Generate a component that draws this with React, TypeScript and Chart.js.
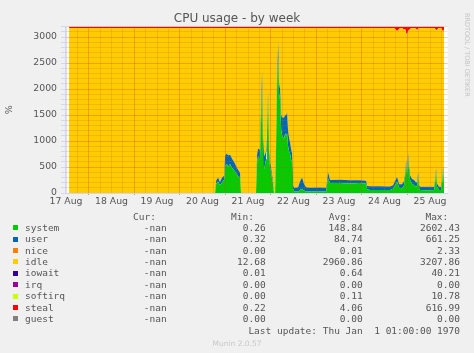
import React, { useEffect, useRef } from 'react';
import { Chart, registerables } from 'chart.js';

Chart.register(...registerables);

// ---- data (x = hours since 17 Aug 00:00) ----
const hours = [
  13.6, 50, 90.6, 91.2, 92.2, 93.2, 94.3, 95.4, 95.9, 96.9,
  97.5, 98.5, 99.6, 100.6, 101.7, 102.7, 103.8, 104.3, 112.2, 112.8,
  113.3, 114.3, 114.9, 115.4, 115.9, 116.4, 117.0, 117.5, 118.0, 118.6,
  119.1, 119.6, 120.2, 120.7, 121.2, 121.7, 122.3, 122.8, 123.3, 123.9,
  124.4, 124.9, 125.5, 126.0, 127.0, 127.6, 128.1, 128.6, 129.1, 129.7,
  130.2, 130.7, 131.2, 131.7, 132.3, 134.4, 135.4, 136.5, 137.5, 138.6,
  140.7, 144.9, 149.2, 149.7, 150.2, 151.3, 156.5, 161.8, 167.1, 170.3,
  170.8, 172.4, 177.6, 182.9, 184.5, 185.5, 186.6, 187.7, 189.2, 190.3,
  190.8, 191.4, 191.9, 192.4, 193.0, 193.5, 194.5, 195.6, 196.7, 197.2,
  197.7, 198.3, 198.8, 201.4, 204.0, 206.2, 206.7, 207.2, 207.7, 208.8,
  209.8, 210.4, 210.9, 211.4,
];

const systemPct = [
  0, 0, 0, 180, 220, 150, 200, 260, 520, 560,
  500, 560, 480, 440, 380, 330, 300, 0, 0, 600,
  700, 650, 1400, 2000, 900, 450, 550, 650, 1100, 1900,
  700, 500, 400, 280, 180, 0, 0, 900, 2000, 2600,
  1900, 1800, 1200, 1100, 1050, 1150, 1100, 1150, 900, 800,
  750, 650, 600, 80, 30, 30, 60, 80, 50, 30,
  30, 30, 30, 180, 280, 190, 190, 185, 190, 180,
  70, 60, 60, 60, 80, 150, 220, 100, 90, 150,
  300, 560, 350, 680, 400, 250, 180, 150, 120, 150,
  330, 80, 60, 55, 55, 60, 200, 420, 120, 60,
  60, 200, 440, 150,
];

const userPct = [
  0, 0, 0, 60, 80, 60, 100, 70, 200, 200,
  220, 180, 180, 160, 140, 120, 90, 0, 0, 150,
  150, 180, 250, 350, 150, 250, 200, 150, 80, 80,
  100, 100, 80, 70, 40, 0, 0, 100, 200, 310,
  200, 200, 300, 350, 400, 350, 400, 400, 300, 250,
  220, 200, 170, 70, 70, 80, 160, 220, 130, 80,
  70, 75, 70, 60, 120, 60, 65, 60, 55, 55,
  65, 70, 70, 65, 70, 80, 90, 70, 80, 80,
  60, 70, 60, 90, 80, 90, 90, 100, 80, 60,
  70, 60, 60, 65, 65, 60, 60, 60, 60, 60,
  60, 60, 60, 60,
];

const idlePct = [
  3175, 3175, 3175, 2935, 2875, 2965, 2875, 2845, 2455, 2415,
  2455, 2435, 2515, 2575, 2655, 2725, 2785, 3175, 3175, 2425,
  2325, 2345, 1525, 825, 2125, 2475, 2425, 2375, 1995, 1190,
  2375, 2560, 2695, 2825, 2955, 3175, 3175, 2175, 975, 265,
  1075, 1175, 1675, 1725, 1725, 1675, 1675, 1625, 1975, 2125,
  2205, 2325, 2405, 3025, 3075, 3065, 2955, 2865, 2995, 3065,
  3075, 3070, 3075, 2935, 2775, 2925, 2920, 2930, 2930, 2940,
  3040, 3045, 3045, 3050, 3025, 2930, 2800, 2990, 3005, 2910,
  2800, 2450, 2620, 2340, 2660, 2820, 2900, 2925, 2960, 2910,
  2770, 3035, 3055, 3055, 3055, 3055, 2900, 2640, 2970, 3055,
  3055, 2880, 2580, 2950,
];

const stealPct = [
  25, 25, 25, 25, 25, 25, 25, 25, 25, 25,
  25, 25, 25, 25, 25, 25, 25, 25, 25, 25,
  25, 25, 25, 25, 25, 25, 25, 25, 25, 30,
  25, 40, 25, 25, 25, 25, 25, 25, 25, 25,
  25, 25, 25, 25, 25, 25, 25, 25, 25, 25,
  25, 25, 25, 25, 25, 25, 25, 35, 25, 25,
  25, 25, 25, 25, 25, 25, 25, 25, 25, 25,
  25, 25, 25, 25, 25, 40, 90, 40, 25, 60,
  40, 120, 170, 90, 60, 40, 30, 25, 40, 80,
  30, 25, 25, 25, 25, 25, 40, 80, 50, 25,
  25, 60, 120, 40,
];

const dayLabels = ['17 Aug', '18 Aug', '19 Aug', '20 Aug', '21 Aug', '22 Aug', '23 Aug', '24 Aug', '25 Aug'];
const yTickLabels = [0, 500, 1000, 1500, 2000, 2500, 3000];

const legendNames = ['system', 'user', 'nice', 'idle', 'iowait', 'irq', 'softirq', 'steal', 'guest'];
const legendColors = ['#00CC00', '#0066B3', '#FF8000', '#FFCC00', '#330099', '#990099', '#CCFF00', '#FF0000', '#808080'];
const curValues = ['-nan', '-nan', '-nan', '-nan', '-nan', '-nan', '-nan', '-nan', '-nan'];
const minValues = ['0.26', '0.32', '0.00', '12.68', '0.01', '0.00', '0.00', '0.22', '0.00'];
const avgValues = ['148.84', '84.74', '0.01', '2960.86', '0.64', '0.00', '0.11', '4.06', '0.00'];
const maxValues = ['2602.43', '661.25', '2.33', '3207.86', '40.21', '0.00', '10.78', '616.99', '0.00'];
const headers = ['Cur:', 'Min:', 'Avg:', 'Max:'];

const titleText = 'CPU usage - by week';
const yTitle = '%';
const lastUpdate = 'Last update: Thu Jan  1 01:00:00 1970';
const watermark = 'RRDTOOL / TOBI OETIKER';
const footer = 'Munin 2.0.57';

// ---- layout / style ----
const W = 474;
const H = 353;
const CANVAS_H = 212;
const FONT = '"DejaVu Sans", sans-serif';
const MONO = '"DejaVu Sans Mono", monospace';
const TEXT = '#555555';
const AXIS = '#CFD6F8';
const GRID_MINOR = 'rgba(190,110,40,0.22)';
const GRID_MAJOR = 'rgba(215,70,40,0.32)';

const bgPlugin = {
  id: 'canvasBg',
  beforeDraw(chart: any) {
    const { ctx, chartArea } = chart;
    if (!chartArea) return;
    ctx.save();
    ctx.fillStyle = '#ffffff';
    ctx.fillRect(chartArea.left, chartArea.top, chartArea.right - chartArea.left, chartArea.bottom - chartArea.top);
    ctx.restore();
  },
};

function series(values: number[]) {
  return hours.map((h, i) => ({ x: h, y: values[i] }));
}

export default function App() {
  const ref = useRef<HTMLCanvasElement>(null);

  useEffect(() => {
    const prevMargin = document.body.style.margin;
    document.body.style.margin = '0';
    const base = { pointRadius: 0, borderWidth: 0, borderColor: 'rgba(0,0,0,0)', tension: 0 };
    const chart = new Chart(ref.current as HTMLCanvasElement, {
      type: 'line',
      data: {
        datasets: [
          { ...base, label: 'system', data: series(systemPct), backgroundColor: '#00CC00', fill: 'origin' },
          { ...base, label: 'user', data: series(userPct), backgroundColor: '#0066B3', fill: '-1' },
          { ...base, label: 'idle', data: series(idlePct), backgroundColor: '#FFCC00', fill: '-1' },
          { ...base, label: 'steal', data: series(stealPct), backgroundColor: '#FF0000', fill: '-1' },
        ] as any,
      },
      options: {
        animation: false,
        responsive: false,
        events: [],
        layout: { padding: { left: 0, right: 26.5, top: 26.6, bottom: 0 } },
        plugins: {
          legend: { display: false },
          tooltip: { enabled: false },
          title: { display: false },
        },
        scales: {
          x: {
            type: 'linear',
            min: 11.47,
            max: 213.2,
            afterFit: (s: any) => { s.height = CANVAS_H - 193; },
            afterBuildTicks: (s: any) => {
              const t = [];
              for (let v = 12; v <= 210; v += 6) t.push({ value: v });
              s.ticks = t;
            },
            grid: {
              z: 1,
              color: (c: any) => (c.tick && c.tick.value % 24 === 0 ? GRID_MAJOR : GRID_MINOR),
              tickColor: (c: any) => (c.tick && c.tick.value % 24 === 0 ? '#a0a0a0' : 'rgba(0,0,0,0)'),
              tickLength: 2,
              lineWidth: 1,
            },
            border: { color: AXIS, width: 1, z: 2 },
            ticks: {
              autoSkip: false,
              maxRotation: 0,
              padding: 1,
              color: TEXT,
              font: { family: FONT, size: 9.3 },
              callback: (value: any) => {
                const v = Number(value);
                if ((v - 12) % 24 === 0) return dayLabels[(v - 12) / 24] ?? '';
                return '';
              },
            },
          },
          y: {
            type: 'linear',
            stacked: true,
            min: 0,
            max: 3200,
            afterFit: (s: any) => { s.width = 65; },
            afterBuildTicks: (s: any) => {
              const t = [];
              for (let v = 0; v <= 3200; v += 100) t.push({ value: v });
              s.ticks = t;
            },
            grid: {
              z: 1,
              color: (c: any) => (c.tick && c.tick.value % 500 === 0 ? GRID_MAJOR : GRID_MINOR),
              tickColor: AXIS,
              tickLength: 4,
              lineWidth: 1,
            },
            border: { color: AXIS, width: 1, z: 2 },
            title: {
              display: true,
              text: yTitle,
              color: TEXT,
              font: { family: FONT, size: 9.5 },
              padding: { top: 4, bottom: 0 },
            },
            ticks: {
              autoSkip: false,
              padding: 4,
              color: TEXT,
              font: { family: FONT, size: 9.3 },
              callback: (value: any) => {
                const v = Number(value);
                return yTickLabels.includes(v) ? String(v) : '';
              },
            },
          },
        },
      } as any,
      plugins: [bgPlugin],
    });
    return () => {
      chart.destroy();
      document.body.style.margin = prevMargin;
    };
  }, []);

  const rowY = (i: number) => 227.7 + i * 11.4;
  const mono = (top: number): React.CSSProperties => ({
    position: 'absolute',
    top: top - 6,
    font: `9.5px ${MONO}`,
    lineHeight: '12px',
    whiteSpace: 'pre',
    color: TEXT,
  });
  const colRight = [166.7, 265.7, 362.7, 460];
  const headRight = [156, 254, 351.7, 448.3];

  return (
    <div style={{ position: 'relative', width: W, height: H, background: '#f0f0f0', overflow: 'hidden' }}>
      <canvas ref={ref} width={W} height={CANVAS_H} style={{ position: 'absolute', left: 0, top: 0, display: 'block' }} />
      <div
        style={{
          position: 'absolute', left: 0, width: W, top: 10.6, textAlign: 'center',
          font: `12px ${FONT}`, lineHeight: '14px', color: '#555', whiteSpace: 'pre',
        }}
      >
        {titleText}
      </div>
      <div
        style={{
          position: 'absolute', left: 470, top: 13, transform: 'rotate(90deg)', transformOrigin: '0 0',
          font: `6.5px ${FONT}`, lineHeight: '7px', color: '#c4c4c4', whiteSpace: 'pre',
        }}
      >
        {watermark}
      </div>
      {headers.map((h, j) => (
        <div key={h} style={{ ...mono(216.7), right: W - headRight[j] }}>{h}</div>
      ))}
      {legendNames.map((name, i) => {
        const y = rowY(i);
        const vals = [curValues[i], minValues[i], avgValues[i], maxValues[i]];
        return (
          <React.Fragment key={name}>
            <div style={{ position: 'absolute', left: 13, top: y - 2.5, width: 5, height: 5, background: legendColors[i] }} />
            <div style={{ ...mono(y), left: 25 }}>{name}</div>
            {vals.map((v, j) => (
              <div key={j} style={{ ...mono(y), right: W - colRight[j] }}>{v}</div>
            ))}
          </React.Fragment>
        );
      })}
      <div style={{ ...mono(330.7), right: W - 460 }}>{lastUpdate}</div>
      <div
        style={{
          position: 'absolute', left: 0, width: W, top: 339, textAlign: 'center',
          font: `7.5px ${FONT}`, lineHeight: '9px', color: '#c8c8c8',
        }}
      >
        {footer}
      </div>
    </div>
  );
}
